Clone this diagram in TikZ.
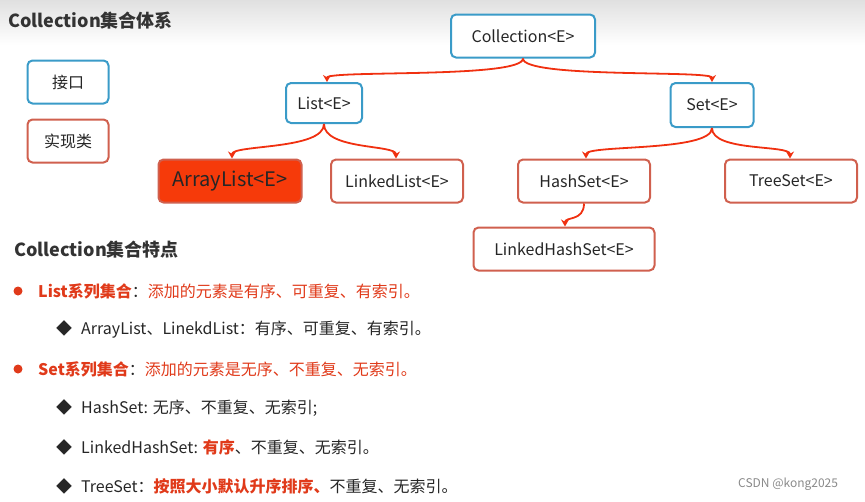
\documentclass[tikz,border=0pt]{standalone}
\usepackage{fontspec}
\setmainfont{Noto Sans CJK SC}
\usetikzlibrary{arrows.meta,shadings}
\definecolor{iblue}{HTML}{3A9BC8}
\definecolor{cred}{HTML}{D0604E}
\definecolor{arr}{HTML}{F03010}
\definecolor{afill}{HTML}{F63A0A}
\definecolor{rtext}{HTML}{E03A1A}
\definecolor{wm}{HTML}{8A8A8A}
\tikzset{
  box/.style={draw, line width=2pt, rounded corners=5pt, fill=white, inner sep=0pt, font=\fontsize{16}{16}\selectfont, text=black!85},
  ibox/.style={box, draw=iblue},
  cbox/.style={box, draw=cred},
  link/.style={draw=arr, line width=1.8pt, -{Stealth[length=7pt,width=8pt]}},
  txt/.style={anchor=west, inner sep=0pt, font=\fontsize{16}{16}\selectfont, text=black!85},
  hd/.style={anchor=west, inner sep=0pt, font=\fontsize{18}{18}\selectfont\bfseries, text=black!80},
}
\begin{document}
\begin{tikzpicture}[x=1pt,y=-1pt]
\useasboundingbox (0,0) rectangle (865,501);
\shade[top color=black!12, bottom color=white] (0,0) rectangle (865,45);
\node[hd] (title) at (8,21) {Collection集合体系};
\node[ibox, minimum width=81pt, minimum height=43pt] (jk) at (68,82) {接口};
\node[cbox, minimum width=81pt, minimum height=43pt] (sx) at (68,141) {实现类};
\node[ibox, minimum width=144pt, minimum height=43pt] (col) at (523,36) {Collection<E>};
\node[ibox, minimum width=76pt, minimum height=40pt] (list) at (324,103) {List<E>};
\node[ibox, minimum width=83pt, minimum height=44pt] (set) at (712,105) {Set<E>};
\node[cbox, fill=afill, minimum width=143pt, minimum height=43pt, font=\fontsize{20}{20}\selectfont] (al) at (230,181) {ArrayList<E>};
\node[cbox, minimum width=132pt, minimum height=43pt] (ll) at (397,181) {LinkedList<E>};
\node[cbox, minimum width=132pt, minimum height=43pt] (hs) at (584,181) {HashSet<E>};
\node[cbox, minimum width=132pt, minimum height=43pt] (ts) at (791,181) {TreeSet<E>};
\node[cbox, minimum width=181pt, minimum height=43pt] (lhs) at (564,249) {LinkedHashSet<E>};
\draw[link] (col.south) .. controls +(0,20) and +(0,-12) .. ([xshift=3pt]list.north);
\draw[link] (col.south) .. controls +(0,20) and +(0,-12) .. (set.north);
\draw[link] (list.south) .. controls +(0,26) and +(0,-14) .. ([xshift=2pt]al.north);
\draw[link] (list.south) .. controls +(0,26) and +(0,-14) .. ([xshift=-1pt]ll.north);
\draw[link] (set.south) .. controls +(0,24) and +(0,-14) .. ([xshift=2pt]hs.north);
\draw[link] (set.south) .. controls +(0,24) and +(0,-14) .. ([xshift=-1pt]ts.north);
\draw[link] (hs.south) .. controls +(0,18) and +(0,-10) .. ([xshift=1pt]lhs.north);
\node[hd] (h2) at (14,250) {Collection集合特点};
\fill[rtext] (18,291) circle (4.5pt);
\node[txt] (b1) at (38,291) {\textcolor{rtext}{\bfseries List系列集合}：\textcolor{rtext}{添加的元素是有序、可重复、有索引。}};
\node[txt] (d1) at (56,329) {◆\hspace{9pt}ArrayList、LinekdList：有序、可重复、有索引。};
\fill[rtext] (18,369) circle (4.5pt);
\node[txt] (b2) at (38,369) {\textcolor{rtext}{\bfseries Set系列集合}：\textcolor{rtext}{添加的元素是无序、不重复、无索引。}};
\node[txt] (d2) at (56,408) {◆\hspace{9pt}HashSet: 无序、不重复、无索引;};
\node[txt] (d3) at (56,447) {◆\hspace{9pt}LinkedHashSet: \textcolor{rtext}{\bfseries 有序}、不重复、无索引。};
\node[txt] (d4) at (56,486) {◆\hspace{9pt}TreeSet：\textcolor{rtext}{\bfseries 按照大小默认升序排序、}不重复、无索引。};
\node[anchor=west, inner sep=0pt, text=wm, font=\fontsize{12}{12}\selectfont] (wmk) at (738,484) {CSDN @kong2025};
\end{tikzpicture}
\end{document}
